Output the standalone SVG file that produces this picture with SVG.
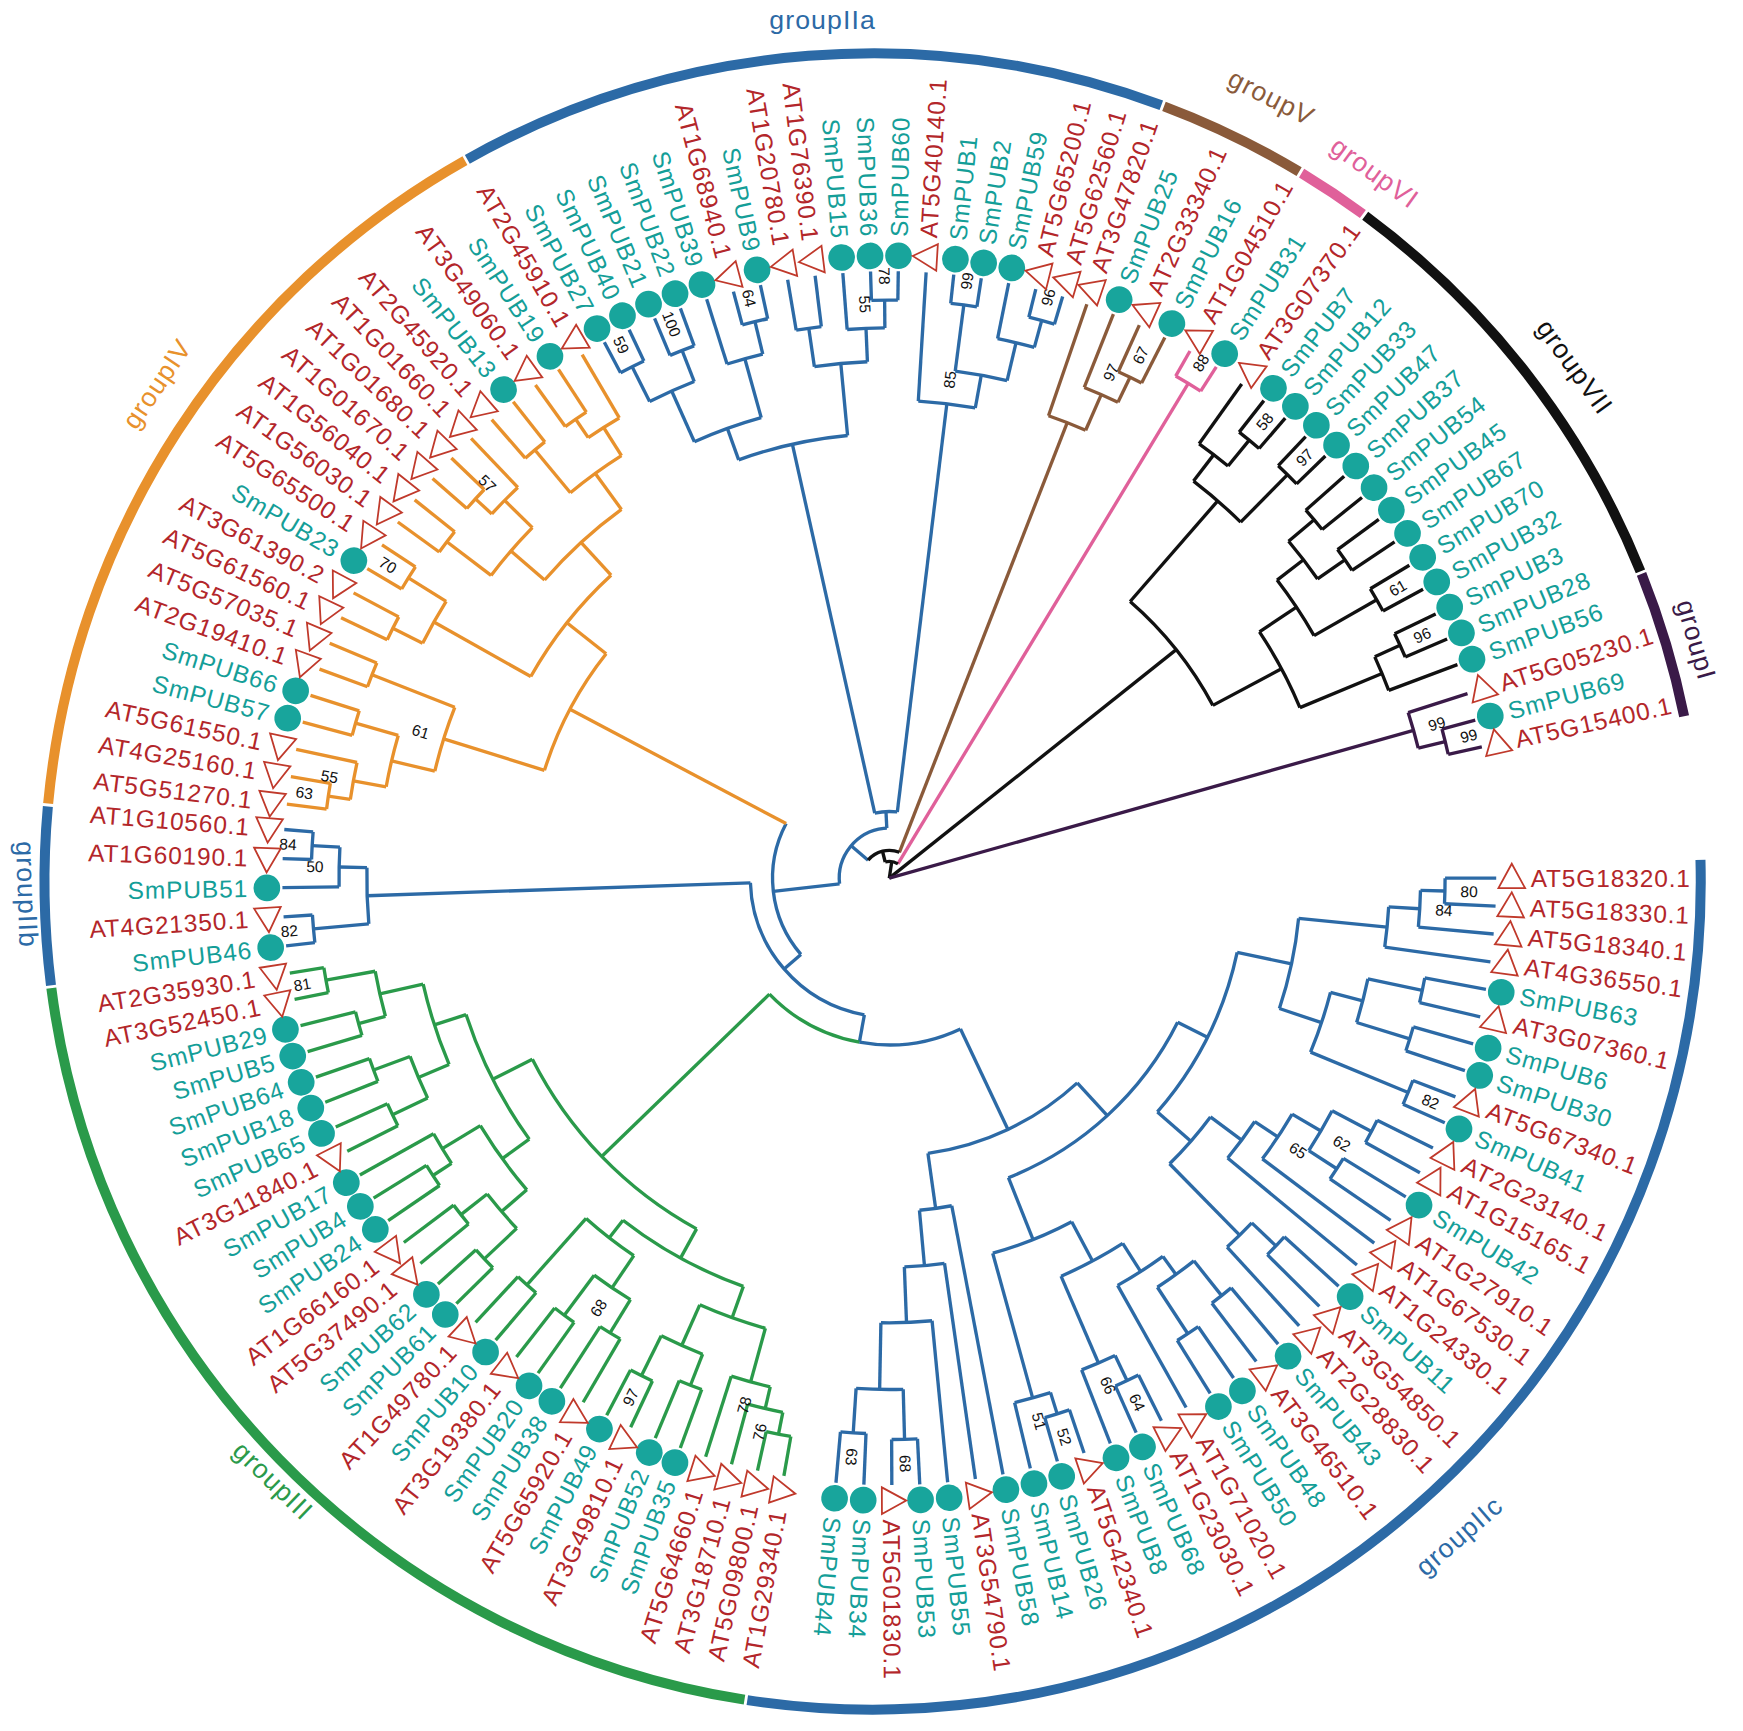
<svg xmlns="http://www.w3.org/2000/svg" width="1743" height="1731" viewBox="0 0 1743 1731">
<style>
text{font-family:"Liberation Sans",Arial,sans-serif}
.r{fill:#b3262a;font-size:22px;letter-spacing:0.8px}
.s{fill:#149e98;font-size:22px;letter-spacing:0.8px}
.dot{fill:#18a59c}
.tri{fill:#fff;stroke:#c0392b;stroke-width:1.6}
#connectors line,#connectors circle{fill:none;stroke-width:3}
.b{stroke:#2c6aa6}.o{stroke:#e8912c}.g{stroke:#2a9a4a}.br{stroke:#8a5a3a}.pk{stroke:#e0609a}.k{stroke:#111}.pu{stroke:#3a1a48}
.bs{font-size:14px;fill:#111}
.ring circle{fill:none;stroke-width:9}
.gl{font-size:24px;letter-spacing:1px}
</style>
<rect width="1743" height="1731" fill="#fff"/>
<g transform="scale(1.1116)">
<g transform="translate(800,790)">
<g id="connectors">
<g class="b">
<circle r="500" transform="rotate(0)" stroke-dasharray="23.04 5000"/><line x1="500" x2="546" transform="rotate(0)"/><line x1="500" x2="546" transform="rotate(2.64)"/>
<circle r="478" transform="rotate(1.32)" stroke-dasharray="33.04 5000"/><line x1="478" x2="500" transform="rotate(1.32)"/><line x1="478" x2="546" transform="rotate(5.28)"/>
<circle r="450" transform="rotate(3.30)" stroke-dasharray="36.28 5000"/><line x1="450" x2="478" transform="rotate(3.30)"/><line x1="450" x2="546" transform="rotate(7.92)"/>
<circle r="490" transform="rotate(10.56)" stroke-dasharray="22.58 5000"/><line x1="490" x2="546" transform="rotate(10.56)"/><line x1="490" x2="546" transform="rotate(13.2)"/>
<circle r="490" transform="rotate(15.84)" stroke-dasharray="22.58 5000"/><line x1="490" x2="546" transform="rotate(15.84)"/><line x1="490" x2="546" transform="rotate(18.48)"/>
<circle r="440" transform="rotate(11.88)" stroke-dasharray="40.55 5000"/><line x1="440" x2="490" transform="rotate(11.88)"/><line x1="440" x2="490" transform="rotate(17.16)"/>
<circle r="505" transform="rotate(21.12)" stroke-dasharray="23.27 5000"/><line x1="505" x2="546" transform="rotate(21.12)"/><line x1="505" x2="546" transform="rotate(23.76)"/>
<circle r="410" transform="rotate(14.52)" stroke-dasharray="56.67 5000"/><line x1="410" x2="440" transform="rotate(14.52)"/><line x1="410" x2="505" transform="rotate(22.44)"/>
<circle r="370" transform="rotate(5.61)" stroke-dasharray="83.11 5000"/><line x1="370" x2="450" transform="rotate(5.61)"/><line x1="370" x2="410" transform="rotate(18.48)"/>
<circle r="490" transform="rotate(26.4)" stroke-dasharray="22.58 5000"/><line x1="490" x2="546" transform="rotate(26.4)"/><line x1="490" x2="546" transform="rotate(29.04)"/>
<circle r="480" transform="rotate(31.68)" stroke-dasharray="22.12 5000"/><line x1="480" x2="546" transform="rotate(31.68)"/><line x1="480" x2="546" transform="rotate(34.32)"/>
<circle r="450" transform="rotate(27.72)" stroke-dasharray="41.47 5000"/><line x1="450" x2="490" transform="rotate(27.72)"/><line x1="450" x2="480" transform="rotate(33)"/>
<circle r="420" transform="rotate(30.36)" stroke-dasharray="48.38 5000"/><line x1="420" x2="450" transform="rotate(30.36)"/><line x1="420" x2="546" transform="rotate(36.96)"/>
<circle r="395" transform="rotate(33.66)" stroke-dasharray="40.95 5000"/><line x1="395" x2="420" transform="rotate(33.66)"/><line x1="395" x2="546" transform="rotate(39.6)"/>
<circle r="480" transform="rotate(42.24)" stroke-dasharray="22.12 5000"/><line x1="480" x2="546" transform="rotate(42.24)"/><line x1="480" x2="546" transform="rotate(44.88)"/>
<circle r="450" transform="rotate(43.56)" stroke-dasharray="31.10 5000"/><line x1="450" x2="480" transform="rotate(43.56)"/><line x1="450" x2="546" transform="rotate(47.52)"/>
<circle r="360" transform="rotate(36.63)" stroke-dasharray="55.98 5000"/><line x1="360" x2="395" transform="rotate(36.63)"/><line x1="360" x2="450" transform="rotate(45.54)"/>
<circle r="320" transform="rotate(12.045)" stroke-dasharray="162.19 5000"/><line x1="320" x2="370" transform="rotate(12.045)"/><line x1="320" x2="360" transform="rotate(41.085)"/>
<circle r="480" transform="rotate(50.16)" stroke-dasharray="22.12 5000"/><line x1="480" x2="546" transform="rotate(50.16)"/><line x1="480" x2="546" transform="rotate(52.8)"/>
<circle r="490" transform="rotate(55.44)" stroke-dasharray="22.58 5000"/><line x1="490" x2="546" transform="rotate(55.44)"/><line x1="490" x2="546" transform="rotate(58.08)"/>
<circle r="440" transform="rotate(51.48)" stroke-dasharray="40.55 5000"/><line x1="440" x2="480" transform="rotate(51.48)"/><line x1="440" x2="490" transform="rotate(56.76)"/>
<circle r="420" transform="rotate(54.12)" stroke-dasharray="48.38 5000"/><line x1="420" x2="440" transform="rotate(54.12)"/><line x1="420" x2="546" transform="rotate(60.72)"/>
<circle r="500" transform="rotate(63.36)" stroke-dasharray="23.04 5000"/><line x1="500" x2="546" transform="rotate(63.36)"/><line x1="500" x2="546" transform="rotate(66)"/>
<circle r="475" transform="rotate(64.68)" stroke-dasharray="32.83 5000"/><line x1="475" x2="500" transform="rotate(64.68)"/><line x1="475" x2="546" transform="rotate(68.64)"/>
<circle r="390" transform="rotate(57.42)" stroke-dasharray="62.89 5000"/><line x1="390" x2="420" transform="rotate(57.42)"/><line x1="390" x2="475" transform="rotate(66.66)"/>
<circle r="505" transform="rotate(71.28)" stroke-dasharray="23.27 5000"/><line x1="505" x2="546" transform="rotate(71.28)"/><line x1="505" x2="546" transform="rotate(73.92)"/>
<circle r="485" transform="rotate(72.6)" stroke-dasharray="33.52 5000"/><line x1="485" x2="505" transform="rotate(72.6)"/><line x1="485" x2="546" transform="rotate(76.56)"/>
<circle r="350" transform="rotate(62.04)" stroke-dasharray="76.60 5000"/><line x1="350" x2="390" transform="rotate(62.04)"/><line x1="350" x2="485" transform="rotate(74.58)"/>
<circle r="290" transform="rotate(26.565)" stroke-dasharray="211.29 5000"/><line x1="290" x2="320" transform="rotate(26.565)"/><line x1="290" x2="350" transform="rotate(68.31)"/>
<circle r="500" transform="rotate(92.4)" stroke-dasharray="23.04 5000"/><line x1="500" x2="546" transform="rotate(92.4)"/><line x1="500" x2="546" transform="rotate(95.04)"/>
<circle r="505" transform="rotate(87.12)" stroke-dasharray="23.27 5000"/><line x1="505" x2="546" transform="rotate(87.12)"/><line x1="505" x2="546" transform="rotate(89.76)"/>
<circle r="460" transform="rotate(88.44)" stroke-dasharray="42.39 5000"/><line x1="460" x2="505" transform="rotate(88.44)"/><line x1="460" x2="500" transform="rotate(93.72)"/>
<circle r="400" transform="rotate(84.48)" stroke-dasharray="46.08 5000"/><line x1="400" x2="546" transform="rotate(84.48)"/><line x1="400" x2="460" transform="rotate(91.08)"/>
<circle r="350" transform="rotate(81.84)" stroke-dasharray="36.28 5000"/><line x1="350" x2="546" transform="rotate(81.84)"/><line x1="350" x2="400" transform="rotate(87.78)"/>
<circle r="300" transform="rotate(79.2)" stroke-dasharray="29.37 5000"/><line x1="300" x2="546" transform="rotate(79.2)"/><line x1="300" x2="350" transform="rotate(84.81)"/>
<circle r="250" transform="rotate(47.44)" stroke-dasharray="150.82 5000"/><line x1="250" x2="290" transform="rotate(47.44)"/><line x1="250" x2="300" transform="rotate(82.005)"/>
<circle r="150" transform="rotate(64.72)" stroke-dasharray="93.23 5000"/><line x1="150" x2="250" transform="rotate(64.72)"/>
<circle r="520" transform="rotate(173.6)" stroke-dasharray="24.96 5000"/><line x1="520" x2="546" transform="rotate(173.6)"/><line x1="520" x2="546" transform="rotate(176.35)"/>
<circle r="520" transform="rotate(181.85)" stroke-dasharray="24.96 5000"/><line x1="520" x2="546" transform="rotate(181.85)"/><line x1="520" x2="546" transform="rotate(184.6)"/>
<circle r="495" transform="rotate(179.1)" stroke-dasharray="35.64 5000"/><line x1="495" x2="546" transform="rotate(179.1)"/><line x1="495" x2="520" transform="rotate(183.225)"/>
<circle r="470" transform="rotate(174.975)" stroke-dasharray="50.74 5000"/><line x1="470" x2="520" transform="rotate(174.975)"/><line x1="470" x2="495" transform="rotate(181.16)"/>
<line x1="125" x2="470" transform="rotate(178.07)"/>
<circle r="125" transform="rotate(100.33)" stroke-dasharray="169.60 5000"/><line x1="125" x2="150" transform="rotate(100.33)"/>
<circle r="105" transform="rotate(139.2)" stroke-dasharray="125.86 5000"/><line x1="105" x2="125" transform="rotate(139.2)"/>
<circle r="45" transform="rotate(173.54)" stroke-dasharray="73.53 5000"/><line x1="45" x2="105" transform="rotate(173.54)"/><line x1="45" x2="60" transform="rotate(267.165)"/>
<line x1="25" x2="45" transform="rotate(220.35)"/>
<circle r="515" transform="rotate(242)" stroke-dasharray="23.55 5000"/><line x1="515" x2="546" transform="rotate(242)"/><line x1="515" x2="546" transform="rotate(244.62)"/>
<circle r="510" transform="rotate(247.25)" stroke-dasharray="23.32 5000"/><line x1="510" x2="546" transform="rotate(247.25)"/><line x1="510" x2="546" transform="rotate(249.87)"/>
<circle r="480" transform="rotate(243.31)" stroke-dasharray="43.98 5000"/><line x1="480" x2="515" transform="rotate(243.31)"/><line x1="480" x2="510" transform="rotate(248.56)"/>
<circle r="515" transform="rotate(255.12)" stroke-dasharray="23.55 5000"/><line x1="515" x2="546" transform="rotate(255.12)"/><line x1="515" x2="546" transform="rotate(257.74)"/>
<circle r="485" transform="rotate(252.49)" stroke-dasharray="33.35 5000"/><line x1="485" x2="546" transform="rotate(252.49)"/><line x1="485" x2="515" transform="rotate(256.43)"/>
<circle r="430" transform="rotate(245.935)" stroke-dasharray="63.98 5000"/><line x1="430" x2="480" transform="rotate(245.935)"/><line x1="430" x2="485" transform="rotate(254.46)"/>
<circle r="500" transform="rotate(260.36)" stroke-dasharray="22.86 5000"/><line x1="500" x2="546" transform="rotate(260.36)"/><line x1="500" x2="546" transform="rotate(262.98)"/>
<circle r="520" transform="rotate(268.23)" stroke-dasharray="23.78 5000"/><line x1="520" x2="546" transform="rotate(268.23)"/><line x1="520" x2="546" transform="rotate(270.85)"/>
<circle r="495" transform="rotate(265.61)" stroke-dasharray="33.95 5000"/><line x1="495" x2="546" transform="rotate(265.61)"/><line x1="495" x2="520" transform="rotate(269.54)"/>
<circle r="465" transform="rotate(261.67)" stroke-dasharray="47.92 5000"/><line x1="465" x2="500" transform="rotate(261.67)"/><line x1="465" x2="495" transform="rotate(267.575)"/>
<circle r="400" transform="rotate(250.2)" stroke-dasharray="100.67 5000"/><line x1="400" x2="430" transform="rotate(250.2)"/><line x1="400" x2="465" transform="rotate(264.62)"/>
<circle r="520" transform="rotate(276.1)" stroke-dasharray="23.78 5000"/><line x1="520" x2="546" transform="rotate(276.1)"/><line x1="520" x2="546" transform="rotate(278.72)"/>
<circle r="520" transform="rotate(283.97)" stroke-dasharray="23.87 5000"/><line x1="520" x2="546" transform="rotate(283.97)"/><line x1="520" x2="546" transform="rotate(286.6)"/>
<circle r="495" transform="rotate(281.35)" stroke-dasharray="34.0 5000"/><line x1="495" x2="546" transform="rotate(281.35)"/><line x1="495" x2="520" transform="rotate(285.285)"/>
<circle r="460" transform="rotate(277.41)" stroke-dasharray="47.45 5000"/><line x1="460" x2="520" transform="rotate(277.41)"/><line x1="460" x2="495" transform="rotate(283.32)"/>
<circle r="430" transform="rotate(273.48)" stroke-dasharray="51.67 5000"/><line x1="430" x2="546" transform="rotate(273.48)"/><line x1="430" x2="460" transform="rotate(280.365)"/>
<circle r="60" transform="rotate(257.41)" stroke-dasharray="20.43 5000"/><line x1="60" x2="400" transform="rotate(257.41)"/><line x1="60" x2="430" transform="rotate(276.92)"/>
</g>
<g class="g">
<circle r="150" transform="rotate(100.33)" stroke-dasharray="93.23 5000"/><line x1="150" x2="360" transform="rotate(135.94)"/>
<circle r="510" transform="rotate(100)" stroke-dasharray="22.61 5000"/><line x1="510" x2="546" transform="rotate(100)"/><line x1="510" x2="546" transform="rotate(102.54)"/>
<circle r="490" transform="rotate(101.27)" stroke-dasharray="32.50 5000"/><line x1="490" x2="510" transform="rotate(101.27)"/><line x1="490" x2="546" transform="rotate(105.07)"/>
<circle r="470" transform="rotate(103.17)" stroke-dasharray="36.42 5000"/><line x1="470" x2="490" transform="rotate(103.17)"/><line x1="470" x2="546" transform="rotate(107.61)"/>
<circle r="490" transform="rotate(110.14)" stroke-dasharray="21.72 5000"/><line x1="490" x2="546" transform="rotate(110.14)"/><line x1="490" x2="546" transform="rotate(112.68)"/>
<circle r="500" transform="rotate(115.22)" stroke-dasharray="22.08 5000"/><line x1="500" x2="546" transform="rotate(115.22)"/><line x1="500" x2="546" transform="rotate(117.75)"/>
<circle r="460" transform="rotate(111.41)" stroke-dasharray="40.74 5000"/><line x1="460" x2="490" transform="rotate(111.41)"/><line x1="460" x2="500" transform="rotate(116.485)"/>
<circle r="420" transform="rotate(105.39)" stroke-dasharray="62.75 5000"/><line x1="420" x2="470" transform="rotate(105.39)"/><line x1="420" x2="460" transform="rotate(113.95)"/>
<circle r="480" transform="rotate(120.29)" stroke-dasharray="21.19 5000"/><line x1="480" x2="546" transform="rotate(120.29)"/><line x1="480" x2="546" transform="rotate(122.82)"/>
<circle r="490" transform="rotate(125.36)" stroke-dasharray="21.72 5000"/><line x1="490" x2="546" transform="rotate(125.36)"/><line x1="490" x2="546" transform="rotate(127.9)"/>
<circle r="445" transform="rotate(121.555)" stroke-dasharray="39.42 5000"/><line x1="445" x2="480" transform="rotate(121.555)"/><line x1="445" x2="490" transform="rotate(126.63)"/>
<circle r="490" transform="rotate(130.43)" stroke-dasharray="21.72 5000"/><line x1="490" x2="546" transform="rotate(130.43)"/><line x1="490" x2="546" transform="rotate(132.97)"/>
<circle r="410" transform="rotate(124.09)" stroke-dasharray="54.46 5000"/><line x1="410" x2="445" transform="rotate(124.09)"/><line x1="410" x2="490" transform="rotate(131.7)"/>
<circle r="390" transform="rotate(109.67)" stroke-dasharray="124.09 5000"/><line x1="390" x2="420" transform="rotate(109.67)"/><line x1="390" x2="410" transform="rotate(127.9)"/>
<circle r="500" transform="rotate(135.5)" stroke-dasharray="22.17 5000"/><line x1="500" x2="546" transform="rotate(135.5)"/><line x1="500" x2="546" transform="rotate(138.04)"/>
<circle r="490" transform="rotate(140.58)" stroke-dasharray="21.64 5000"/><line x1="490" x2="546" transform="rotate(140.58)"/><line x1="490" x2="546" transform="rotate(143.11)"/>
<circle r="460" transform="rotate(136.77)" stroke-dasharray="40.74 5000"/><line x1="460" x2="500" transform="rotate(136.77)"/><line x1="460" x2="490" transform="rotate(141.845)"/>
<circle r="490" transform="rotate(145.65)" stroke-dasharray="21.64 5000"/><line x1="490" x2="546" transform="rotate(145.65)"/><line x1="490" x2="546" transform="rotate(148.18)"/>
<circle r="470" transform="rotate(146.915)" stroke-dasharray="31.21 5000"/><line x1="470" x2="490" transform="rotate(146.915)"/><line x1="470" x2="546" transform="rotate(150.72)"/>
<circle r="430" transform="rotate(139.31)" stroke-dasharray="71.37 5000"/><line x1="430" x2="460" transform="rotate(139.31)"/><line x1="430" x2="470" transform="rotate(148.82)"/>
<circle r="495" transform="rotate(153.26)" stroke-dasharray="21.86 5000"/><line x1="495" x2="546" transform="rotate(153.26)"/><line x1="495" x2="546" transform="rotate(155.79)"/>
<circle r="495" transform="rotate(158.33)" stroke-dasharray="21.86 5000"/><line x1="495" x2="546" transform="rotate(158.33)"/><line x1="495" x2="546" transform="rotate(160.86)"/>
<circle r="460" transform="rotate(154.525)" stroke-dasharray="40.70 5000"/><line x1="460" x2="495" transform="rotate(154.525)"/><line x1="460" x2="495" transform="rotate(159.595)"/>
<circle r="495" transform="rotate(163.4)" stroke-dasharray="21.94 5000"/><line x1="495" x2="546" transform="rotate(163.4)"/><line x1="495" x2="546" transform="rotate(165.94)"/>
<circle r="515" transform="rotate(168.47)" stroke-dasharray="22.74 5000"/><line x1="515" x2="546" transform="rotate(168.47)"/><line x1="515" x2="546" transform="rotate(171)"/>
<circle r="470" transform="rotate(164.67)" stroke-dasharray="41.55 5000"/><line x1="470" x2="495" transform="rotate(164.67)"/><line x1="470" x2="515" transform="rotate(169.735)"/>
<circle r="430" transform="rotate(157.06)" stroke-dasharray="76.10 5000"/><line x1="430" x2="460" transform="rotate(157.06)"/><line x1="430" x2="470" transform="rotate(167.2)"/>
<circle r="400" transform="rotate(144.065)" stroke-dasharray="126.12 5000"/><line x1="400" x2="430" transform="rotate(144.065)"/><line x1="400" x2="430" transform="rotate(162.13)"/>
<circle r="360" transform="rotate(118.785)" stroke-dasharray="215.60 5000"/><line x1="360" x2="390" transform="rotate(118.785)"/><line x1="360" x2="400" transform="rotate(153.1)"/>
</g>
<g class="o">
<line x1="105" x2="325" transform="rotate(207.88)"/>
<circle r="510" transform="rotate(187)" stroke-dasharray="23.41 5000"/><line x1="510" x2="546" transform="rotate(187)"/><line x1="510" x2="546" transform="rotate(189.63)"/>
<circle r="490" transform="rotate(188.315)" stroke-dasharray="33.74 5000"/><line x1="490" x2="510" transform="rotate(188.315)"/><line x1="490" x2="546" transform="rotate(192.26)"/>
<circle r="500" transform="rotate(194.89)" stroke-dasharray="22.95 5000"/><line x1="500" x2="546" transform="rotate(194.89)"/><line x1="500" x2="546" transform="rotate(197.52)"/>
<circle r="460" transform="rotate(190.29)" stroke-dasharray="47.49 5000"/><line x1="460" x2="490" transform="rotate(190.29)"/><line x1="460" x2="500" transform="rotate(196.205)"/>
<circle r="500" transform="rotate(200.15)" stroke-dasharray="22.95 5000"/><line x1="500" x2="546" transform="rotate(200.15)"/><line x1="500" x2="546" transform="rotate(202.78)"/>
<circle r="420" transform="rotate(193.25)" stroke-dasharray="60.22 5000"/><line x1="420" x2="460" transform="rotate(193.25)"/><line x1="420" x2="500" transform="rotate(201.465)"/>
<circle r="500" transform="rotate(205.41)" stroke-dasharray="22.95 5000"/><line x1="500" x2="546" transform="rotate(205.41)"/><line x1="500" x2="546" transform="rotate(208.04)"/>
<circle r="510" transform="rotate(210.67)" stroke-dasharray="23.41 5000"/><line x1="510" x2="546" transform="rotate(210.67)"/><line x1="510" x2="546" transform="rotate(213.3)"/>
<circle r="470" transform="rotate(206.725)" stroke-dasharray="43.15 5000"/><line x1="470" x2="500" transform="rotate(206.725)"/><line x1="470" x2="510" transform="rotate(211.985)"/>
<circle r="500" transform="rotate(215.93)" stroke-dasharray="22.95 5000"/><line x1="500" x2="546" transform="rotate(215.93)"/><line x1="500" x2="546" transform="rotate(218.56)"/>
<circle r="505" transform="rotate(221.19)" stroke-dasharray="23.18 5000"/><line x1="505" x2="546" transform="rotate(221.19)"/><line x1="505" x2="546" transform="rotate(223.82)"/>
<circle r="485" transform="rotate(222.505)" stroke-dasharray="33.39 5000"/><line x1="485" x2="505" transform="rotate(222.505)"/><line x1="485" x2="546" transform="rotate(226.45)"/>
<circle r="450" transform="rotate(217.245)" stroke-dasharray="56.82 5000"/><line x1="450" x2="500" transform="rotate(217.245)"/><line x1="450" x2="485" transform="rotate(224.48)"/>
<circle r="500" transform="rotate(229.08)" stroke-dasharray="22.95 5000"/><line x1="500" x2="546" transform="rotate(229.08)"/><line x1="500" x2="546" transform="rotate(231.71)"/>
<circle r="500" transform="rotate(234.34)" stroke-dasharray="22.95 5000"/><line x1="500" x2="546" transform="rotate(234.34)"/><line x1="500" x2="546" transform="rotate(236.97)"/>
<circle r="480" transform="rotate(235.655)" stroke-dasharray="33.05 5000"/><line x1="480" x2="500" transform="rotate(235.655)"/><line x1="480" x2="546" transform="rotate(239.6)"/>
<circle r="450" transform="rotate(230.395)" stroke-dasharray="56.82 5000"/><line x1="450" x2="500" transform="rotate(230.395)"/><line x1="450" x2="480" transform="rotate(237.63)"/>
<circle r="410" transform="rotate(220.86)" stroke-dasharray="94.10 5000"/><line x1="410" x2="450" transform="rotate(220.86)"/><line x1="410" x2="450" transform="rotate(234.01)"/>
<circle r="370" transform="rotate(209.355)" stroke-dasharray="116.75 5000"/><line x1="370" x2="470" transform="rotate(209.355)"/><line x1="370" x2="410" transform="rotate(227.435)"/>
<circle r="325" transform="rotate(197.36)" stroke-dasharray="119.32 5000"/><line x1="325" x2="420" transform="rotate(197.36)"/><line x1="325" x2="370" transform="rotate(218.395)"/>
</g>
<g class="br">
<line x1="25" x2="440" transform="rotate(291.335)"/>
<circle r="500" transform="rotate(294.33)" stroke-dasharray="23.30 5000"/><line x1="500" x2="546" transform="rotate(294.33)"/><line x1="500" x2="546" transform="rotate(297)"/>
<circle r="475" transform="rotate(291.67)" stroke-dasharray="33.12 5000"/><line x1="475" x2="546" transform="rotate(291.67)"/><line x1="475" x2="500" transform="rotate(295.665)"/>
<circle r="440" transform="rotate(289)" stroke-dasharray="35.86 5000"/><line x1="440" x2="546" transform="rotate(289)"/><line x1="440" x2="475" transform="rotate(293.67)"/>
</g>
<g class="pk">
<line x1="15" x2="520" transform="rotate(301.15)"/>
<circle r="520" transform="rotate(299.7)" stroke-dasharray="26.32 5000"/><line x1="520" x2="546" transform="rotate(299.7)"/><line x1="520" x2="546" transform="rotate(302.6)"/>
</g>
<g class="k">
<circle r="25" transform="rotate(220.35)" stroke-dasharray="30.97 5000"/>
<circle r="15" transform="rotate(255.84)" stroke-dasharray="11.86 5000"/><line x1="15" x2="25" transform="rotate(255.84)"/>
<line x1="0" x2="15" transform="rotate(278.5)"/>
<line x1="0" x2="330" transform="rotate(321.47)"/>
<circle r="510" transform="rotate(308.11)" stroke-dasharray="23.23 5000"/><line x1="510" x2="546" transform="rotate(308.11)"/><line x1="510" x2="546" transform="rotate(310.72)"/>
<circle r="480" transform="rotate(305.5)" stroke-dasharray="32.80 5000"/><line x1="480" x2="546" transform="rotate(305.5)"/><line x1="480" x2="510" transform="rotate(309.415)"/>
<circle r="510" transform="rotate(313.32)" stroke-dasharray="23.23 5000"/><line x1="510" x2="546" transform="rotate(313.32)"/><line x1="510" x2="546" transform="rotate(315.93)"/>
<circle r="450" transform="rotate(307.46)" stroke-dasharray="56.27 5000"/><line x1="450" x2="480" transform="rotate(307.46)"/><line x1="450" x2="510" transform="rotate(314.625)"/>
<circle r="500" transform="rotate(318.54)" stroke-dasharray="22.78 5000"/><line x1="500" x2="546" transform="rotate(318.54)"/><line x1="500" x2="546" transform="rotate(321.15)"/>
<circle r="500" transform="rotate(323.76)" stroke-dasharray="22.69 5000"/><line x1="500" x2="546" transform="rotate(323.76)"/><line x1="500" x2="546" transform="rotate(326.36)"/>
<circle r="470" transform="rotate(319.845)" stroke-dasharray="42.78 5000"/><line x1="470" x2="500" transform="rotate(319.845)"/><line x1="470" x2="500" transform="rotate(325.06)"/>
<circle r="505" transform="rotate(328.97)" stroke-dasharray="23.0 5000"/><line x1="505" x2="546" transform="rotate(328.97)"/><line x1="505" x2="546" transform="rotate(331.58)"/>
<circle r="440" transform="rotate(322.45)" stroke-dasharray="60.09 5000"/><line x1="440" x2="470" transform="rotate(322.45)"/><line x1="440" x2="505" transform="rotate(330.275)"/>
<circle r="505" transform="rotate(334.19)" stroke-dasharray="23.0 5000"/><line x1="505" x2="546" transform="rotate(334.19)"/><line x1="505" x2="546" transform="rotate(336.8)"/>
<circle r="480" transform="rotate(335.495)" stroke-dasharray="32.71 5000"/><line x1="480" x2="505" transform="rotate(335.495)"/><line x1="480" x2="546" transform="rotate(339.4)"/>
<circle r="400" transform="rotate(326.36)" stroke-dasharray="77.42 5000"/><line x1="400" x2="440" transform="rotate(326.36)"/><line x1="400" x2="480" transform="rotate(337.45)"/>
<circle r="330" transform="rotate(311.04)" stroke-dasharray="120.14 5000"/><line x1="330" x2="450" transform="rotate(311.04)"/><line x1="330" x2="400" transform="rotate(331.9)"/>
</g>
<g class="pu">
<line x1="0" x2="490" transform="rotate(344.25)"/>
<circle r="515" transform="rotate(344.9)" stroke-dasharray="23.37 5000"/><line x1="515" x2="546" transform="rotate(344.9)"/><line x1="515" x2="546" transform="rotate(347.5)"/>
<circle r="490" transform="rotate(342.3)" stroke-dasharray="33.35 5000"/><line x1="490" x2="546" transform="rotate(342.3)"/><line x1="490" x2="515" transform="rotate(346.2)"/>
</g>
<g class="bs">
<text transform="rotate(1.32)" x="514" y="5">80</text>
<text transform="rotate(3.3)" x="492" y="5">84</text>
<text transform="rotate(22.44)" x="519" y="5">82</text>
<text transform="rotate(30.36)" x="464" y="5">62</text>
<text transform="rotate(33.66)" x="434" y="5">65</text>
<text transform="rotate(64.68)" x="514" y="5">64</text>
<text transform="rotate(66.66)" x="489" y="5">66</text>
<text transform="rotate(72.6)" x="519" y="5">52</text>
<text transform="rotate(74.58)" x="499" y="5">51</text>
<text transform="rotate(93.72)" x="514" y="5">63</text>
<text transform="rotate(88.44)" x="519" y="5">68</text>
<text transform="rotate(103.17) rotate(180)" x="-504" y="5" text-anchor="end">76</text>
<text transform="rotate(105.39) rotate(180)" x="-484" y="5" text-anchor="end">78</text>
<text transform="rotate(116.485) rotate(180)" x="-514" y="5" text-anchor="end">97</text>
<text transform="rotate(124.09) rotate(180)" x="-459" y="5" text-anchor="end">68</text>
<text transform="rotate(169.735) rotate(180)" x="-529" y="5" text-anchor="end">81</text>
<text transform="rotate(174.975) rotate(180)" x="-534" y="5" text-anchor="end">82</text>
<text transform="rotate(183.225) rotate(180)" x="-534" y="5" text-anchor="end">84</text>
<text transform="rotate(181.16) rotate(180)" x="-509" y="5" text-anchor="end">50</text>
<text transform="rotate(188.315) rotate(180)" x="-524" y="5" text-anchor="end">63</text>
<text transform="rotate(190.29) rotate(180)" x="-504" y="5" text-anchor="end">55</text>
<text transform="rotate(197.36) rotate(180)" x="-434" y="5" text-anchor="end">61</text>
<text transform="rotate(211.985) rotate(180)" x="-524" y="5" text-anchor="end">70</text>
<text transform="rotate(224.48) rotate(180)" x="-499" y="5" text-anchor="end">57</text>
<text transform="rotate(243.31) rotate(180)" x="-529" y="5" text-anchor="end">59</text>
<text transform="rotate(248.56) rotate(180)" x="-524" y="5" text-anchor="end">100</text>
<text transform="rotate(256.43) rotate(180)" x="-529" y="5" text-anchor="end">64</text>
<text transform="rotate(269.54) rotate(180)" x="-534" y="5" text-anchor="end">78</text>
<text transform="rotate(267.575) rotate(180)" x="-509" y="5" text-anchor="end">55</text>
<text transform="rotate(277.41)" x="534" y="5">99</text>
<text transform="rotate(285.285)" x="534" y="5">96</text>
<text transform="rotate(276.92)" x="444" y="5">85</text>
<text transform="rotate(295.665)" x="514" y="5">67</text>
<text transform="rotate(293.67)" x="489" y="5">97</text>
<text transform="rotate(301.15)" x="534" y="5">88</text>
<text transform="rotate(309.415)" x="524" y="5">58</text>
<text transform="rotate(314.625)" x="524" y="5">97</text>
<text transform="rotate(330.275)" x="519" y="5">61</text>
<text transform="rotate(335.495)" x="519" y="5">96</text>
<text transform="rotate(346.2)" x="529" y="5">99</text>
<text transform="rotate(344.25)" x="504" y="5">99</text>
</g>
</g>
<defs>
<polygon id="tr" class="tri" points="560,-13 572,9 548,9"/>
<circle id="dt" class="dot" cx="560" r="12"/>
</defs>
<g id="leaves">
<g id="n_AT5G18320" transform="rotate(0)"><use href="#tr"/><text class="r" x="577" y="8">AT5G18320.1</text></g>
<g id="n_AT5G18330" transform="rotate(2.64)"><use href="#tr"/><text class="r" x="577" y="8">AT5G18330.1</text></g>
<g id="n_AT5G18340" transform="rotate(5.28)"><use href="#tr"/><text class="r" x="577" y="8">AT5G18340.1</text></g>
<g id="n_AT4G36550" transform="rotate(7.92)"><use href="#tr"/><text class="r" x="577" y="8">AT4G36550.1</text></g>
<g id="n_SmPUB63" transform="rotate(10.56)"><use href="#dt"/><text class="s" x="577" y="8">SmPUB63</text></g>
<g id="n_AT3G07360" transform="rotate(13.2)"><use href="#tr"/><text class="r" x="577" y="8">AT3G07360.1</text></g>
<g id="n_SmPUB6" transform="rotate(15.84)"><use href="#dt"/><text class="s" x="577" y="8">SmPUB6</text></g>
<g id="n_SmPUB30" transform="rotate(18.48)"><use href="#dt"/><text class="s" x="577" y="8">SmPUB30</text></g>
<g id="n_AT5G67340" transform="rotate(21.12)"><use href="#tr"/><text class="r" x="577" y="8">AT5G67340.1</text></g>
<g id="n_SmPUB41" transform="rotate(23.76)"><use href="#dt"/><text class="s" x="577" y="8">SmPUB41</text></g>
<g id="n_AT2G23140" transform="rotate(26.4)"><use href="#tr"/><text class="r" x="577" y="8">AT2G23140.1</text></g>
<g id="n_AT1G15165" transform="rotate(29.04)"><use href="#tr"/><text class="r" x="577" y="8">AT1G15165.1</text></g>
<g id="n_SmPUB42" transform="rotate(31.68)"><use href="#dt"/><text class="s" x="577" y="8">SmPUB42</text></g>
<g id="n_AT1G27910" transform="rotate(34.32)"><use href="#tr"/><text class="r" x="577" y="8">AT1G27910.1</text></g>
<g id="n_AT1G67530" transform="rotate(36.96)"><use href="#tr"/><text class="r" x="577" y="8">AT1G67530.1</text></g>
<g id="n_AT1G24330" transform="rotate(39.6)"><use href="#tr"/><text class="r" x="577" y="8">AT1G24330.1</text></g>
<g id="n_SmPUB11" transform="rotate(42.24)"><use href="#dt"/><text class="s" x="577" y="8">SmPUB11</text></g>
<g id="n_AT3G54850" transform="rotate(44.88)"><use href="#tr"/><text class="r" x="577" y="8">AT3G54850.1</text></g>
<g id="n_AT2G28830" transform="rotate(47.52)"><use href="#tr"/><text class="r" x="577" y="8">AT2G28830.1</text></g>
<g id="n_SmPUB43" transform="rotate(50.16)"><use href="#dt"/><text class="s" x="577" y="8">SmPUB43</text></g>
<g id="n_AT3G46510" transform="rotate(52.8)"><use href="#tr"/><text class="r" x="577" y="8">AT3G46510.1</text></g>
<g id="n_SmPUB48" transform="rotate(55.44)"><use href="#dt"/><text class="s" x="577" y="8">SmPUB48</text></g>
<g id="n_SmPUB50" transform="rotate(58.08)"><use href="#dt"/><text class="s" x="577" y="8">SmPUB50</text></g>
<g id="n_AT1G71020" transform="rotate(60.72)"><use href="#tr"/><text class="r" x="577" y="8">AT1G71020.1</text></g>
<g id="n_AT1G23030" transform="rotate(63.36)"><use href="#tr"/><text class="r" x="577" y="8">AT1G23030.1</text></g>
<g id="n_SmPUB68" transform="rotate(66)"><use href="#dt"/><text class="s" x="577" y="8">SmPUB68</text></g>
<g id="n_SmPUB8" transform="rotate(68.64)"><use href="#dt"/><text class="s" x="577" y="8">SmPUB8</text></g>
<g id="n_AT5G42340" transform="rotate(71.28)"><use href="#tr"/><text class="r" x="577" y="8">AT5G42340.1</text></g>
<g id="n_SmPUB26" transform="rotate(73.92)"><use href="#dt"/><text class="s" x="577" y="8">SmPUB26</text></g>
<g id="n_SmPUB14" transform="rotate(76.56)"><use href="#dt"/><text class="s" x="577" y="8">SmPUB14</text></g>
<g id="n_SmPUB58" transform="rotate(79.2)"><use href="#dt"/><text class="s" x="577" y="8">SmPUB58</text></g>
<g id="n_AT3G54790" transform="rotate(81.84)"><use href="#tr"/><text class="r" x="577" y="8">AT3G54790.1</text></g>
<g id="n_SmPUB55" transform="rotate(84.48)"><use href="#dt"/><text class="s" x="577" y="8">SmPUB55</text></g>
<g id="n_SmPUB53" transform="rotate(87.12)"><use href="#dt"/><text class="s" x="577" y="8">SmPUB53</text></g>
<g id="n_AT5G01830" transform="rotate(89.76)"><use href="#tr"/><text class="r" x="577" y="8">AT5G01830.1</text></g>
<g id="n_SmPUB34" transform="rotate(92.4)"><use href="#dt"/><text class="s" x="577" y="8">SmPUB34</text></g>
<g id="n_SmPUB44" transform="rotate(95.04)"><use href="#dt"/><text class="s" x="577" y="8">SmPUB44</text></g>
<g id="n_AT1G29340" transform="rotate(100)"><use href="#tr"/><text class="r" transform="rotate(180)" x="-577" y="8" text-anchor="end">AT1G29340.1</text></g>
<g id="n_AT5G09800" transform="rotate(102.54)"><use href="#tr"/><text class="r" transform="rotate(180)" x="-577" y="8" text-anchor="end">AT5G09800.1</text></g>
<g id="n_AT3G18710" transform="rotate(105.07)"><use href="#tr"/><text class="r" transform="rotate(180)" x="-577" y="8" text-anchor="end">AT3G18710.1</text></g>
<g id="n_AT5G64660" transform="rotate(107.61)"><use href="#tr"/><text class="r" transform="rotate(180)" x="-577" y="8" text-anchor="end">AT5G64660.1</text></g>
<g id="n_SmPUB35" transform="rotate(110.14)"><use href="#dt"/><text class="s" transform="rotate(180)" x="-577" y="8" text-anchor="end">SmPUB35</text></g>
<g id="n_SmPUB52" transform="rotate(112.68)"><use href="#dt"/><text class="s" transform="rotate(180)" x="-577" y="8" text-anchor="end">SmPUB52</text></g>
<g id="n_AT3G49810" transform="rotate(115.22)"><use href="#tr"/><text class="r" transform="rotate(180)" x="-577" y="8" text-anchor="end">AT3G49810.1</text></g>
<g id="n_SmPUB49" transform="rotate(117.75)"><use href="#dt"/><text class="s" transform="rotate(180)" x="-577" y="8" text-anchor="end">SmPUB49</text></g>
<g id="n_AT5G65920" transform="rotate(120.29)"><use href="#tr"/><text class="r" transform="rotate(180)" x="-577" y="8" text-anchor="end">AT5G65920.1</text></g>
<g id="n_SmPUB38" transform="rotate(122.82)"><use href="#dt"/><text class="s" transform="rotate(180)" x="-577" y="8" text-anchor="end">SmPUB38</text></g>
<g id="n_SmPUB20" transform="rotate(125.36)"><use href="#dt"/><text class="s" transform="rotate(180)" x="-577" y="8" text-anchor="end">SmPUB20</text></g>
<g id="n_AT3G19380" transform="rotate(127.9)"><use href="#tr"/><text class="r" transform="rotate(180)" x="-577" y="8" text-anchor="end">AT3G19380.1</text></g>
<g id="n_SmPUB10" transform="rotate(130.43)"><use href="#dt"/><text class="s" transform="rotate(180)" x="-577" y="8" text-anchor="end">SmPUB10</text></g>
<g id="n_AT1G49780" transform="rotate(132.97)"><use href="#tr"/><text class="r" transform="rotate(180)" x="-577" y="8" text-anchor="end">AT1G49780.1</text></g>
<g id="n_SmPUB61" transform="rotate(135.5)"><use href="#dt"/><text class="s" transform="rotate(180)" x="-577" y="8" text-anchor="end">SmPUB61</text></g>
<g id="n_SmPUB62" transform="rotate(138.04)"><use href="#dt"/><text class="s" transform="rotate(180)" x="-577" y="8" text-anchor="end">SmPUB62</text></g>
<g id="n_AT5G37490" transform="rotate(140.58)"><use href="#tr"/><text class="r" transform="rotate(180)" x="-577" y="8" text-anchor="end">AT5G37490.1</text></g>
<g id="n_AT1G66160" transform="rotate(143.11)"><use href="#tr"/><text class="r" transform="rotate(180)" x="-577" y="8" text-anchor="end">AT1G66160.1</text></g>
<g id="n_SmPUB24" transform="rotate(145.65)"><use href="#dt"/><text class="s" transform="rotate(180)" x="-577" y="8" text-anchor="end">SmPUB24</text></g>
<g id="n_SmPUB4" transform="rotate(148.18)"><use href="#dt"/><text class="s" transform="rotate(180)" x="-577" y="8" text-anchor="end">SmPUB4</text></g>
<g id="n_SmPUB17" transform="rotate(150.72)"><use href="#dt"/><text class="s" transform="rotate(180)" x="-577" y="8" text-anchor="end">SmPUB17</text></g>
<g id="n_AT3G11840" transform="rotate(153.26)"><use href="#tr"/><text class="r" transform="rotate(180)" x="-577" y="8" text-anchor="end">AT3G11840.1</text></g>
<g id="n_SmPUB65" transform="rotate(155.79)"><use href="#dt"/><text class="s" transform="rotate(180)" x="-577" y="8" text-anchor="end">SmPUB65</text></g>
<g id="n_SmPUB18" transform="rotate(158.33)"><use href="#dt"/><text class="s" transform="rotate(180)" x="-577" y="8" text-anchor="end">SmPUB18</text></g>
<g id="n_SmPUB64" transform="rotate(160.86)"><use href="#dt"/><text class="s" transform="rotate(180)" x="-577" y="8" text-anchor="end">SmPUB64</text></g>
<g id="n_SmPUB5" transform="rotate(163.4)"><use href="#dt"/><text class="s" transform="rotate(180)" x="-577" y="8" text-anchor="end">SmPUB5</text></g>
<g id="n_SmPUB29" transform="rotate(165.94)"><use href="#dt"/><text class="s" transform="rotate(180)" x="-577" y="8" text-anchor="end">SmPUB29</text></g>
<g id="n_AT3G52450" transform="rotate(168.47)"><use href="#tr"/><text class="r" transform="rotate(180)" x="-577" y="8" text-anchor="end">AT3G52450.1</text></g>
<g id="n_AT2G35930" transform="rotate(171)"><use href="#tr"/><text class="r" transform="rotate(180)" x="-577" y="8" text-anchor="end">AT2G35930.1</text></g>
<g id="n_SmPUB46" transform="rotate(173.6)"><use href="#dt"/><text class="s" transform="rotate(180)" x="-577" y="8" text-anchor="end">SmPUB46</text></g>
<g id="n_AT4G21350" transform="rotate(176.35)"><use href="#tr"/><text class="r" transform="rotate(180)" x="-577" y="8" text-anchor="end">AT4G21350.1</text></g>
<g id="n_SmPUB51" transform="rotate(179.1)"><use href="#dt"/><text class="s" transform="rotate(180)" x="-577" y="8" text-anchor="end">SmPUB51</text></g>
<g id="n_AT1G60190" transform="rotate(181.85)"><use href="#tr"/><text class="r" transform="rotate(180)" x="-577" y="8" text-anchor="end">AT1G60190.1</text></g>
<g id="n_AT1G10560" transform="rotate(184.6)"><use href="#tr"/><text class="r" transform="rotate(180)" x="-577" y="8" text-anchor="end">AT1G10560.1</text></g>
<g id="n_AT5G51270" transform="rotate(187)"><use href="#tr"/><text class="r" transform="rotate(180)" x="-577" y="8" text-anchor="end">AT5G51270.1</text></g>
<g id="n_AT4G25160" transform="rotate(189.63)"><use href="#tr"/><text class="r" transform="rotate(180)" x="-577" y="8" text-anchor="end">AT4G25160.1</text></g>
<g id="n_AT5G61550" transform="rotate(192.26)"><use href="#tr"/><text class="r" transform="rotate(180)" x="-577" y="8" text-anchor="end">AT5G61550.1</text></g>
<g id="n_SmPUB57" transform="rotate(194.89)"><use href="#dt"/><text class="s" transform="rotate(180)" x="-577" y="8" text-anchor="end">SmPUB57</text></g>
<g id="n_SmPUB66" transform="rotate(197.52)"><use href="#dt"/><text class="s" transform="rotate(180)" x="-577" y="8" text-anchor="end">SmPUB66</text></g>
<g id="n_AT2G19410" transform="rotate(200.15)"><use href="#tr"/><text class="r" transform="rotate(180)" x="-577" y="8" text-anchor="end">AT2G19410.1</text></g>
<g id="n_AT5G57035" transform="rotate(202.78)"><use href="#tr"/><text class="r" transform="rotate(180)" x="-577" y="8" text-anchor="end">AT5G57035.1</text></g>
<g id="n_AT5G61560" transform="rotate(205.41)"><use href="#tr"/><text class="r" transform="rotate(180)" x="-577" y="8" text-anchor="end">AT5G61560.1</text></g>
<g id="n_AT3G61390" transform="rotate(208.04)"><use href="#tr"/><text class="r" transform="rotate(180)" x="-577" y="8" text-anchor="end">AT3G61390.2</text></g>
<g id="n_SmPUB23" transform="rotate(210.67)"><use href="#dt"/><text class="s" transform="rotate(180)" x="-577" y="8" text-anchor="end">SmPUB23</text></g>
<g id="n_AT5G65500" transform="rotate(213.3)"><use href="#tr"/><text class="r" transform="rotate(180)" x="-577" y="8" text-anchor="end">AT5G65500.1</text></g>
<g id="n_AT1G56030" transform="rotate(215.93)"><use href="#tr"/><text class="r" transform="rotate(180)" x="-577" y="8" text-anchor="end">AT1G56030.1</text></g>
<g id="n_AT1G56040" transform="rotate(218.56)"><use href="#tr"/><text class="r" transform="rotate(180)" x="-577" y="8" text-anchor="end">AT1G56040.1</text></g>
<g id="n_AT1G01670" transform="rotate(221.19)"><use href="#tr"/><text class="r" transform="rotate(180)" x="-577" y="8" text-anchor="end">AT1G01670.1</text></g>
<g id="n_AT1G01680" transform="rotate(223.82)"><use href="#tr"/><text class="r" transform="rotate(180)" x="-577" y="8" text-anchor="end">AT1G01680.1</text></g>
<g id="n_AT1G01660" transform="rotate(226.45)"><use href="#tr"/><text class="r" transform="rotate(180)" x="-577" y="8" text-anchor="end">AT1G01660.1</text></g>
<g id="n_AT2G45920" transform="rotate(229.08)"><use href="#tr"/><text class="r" transform="rotate(180)" x="-577" y="8" text-anchor="end">AT2G45920.1</text></g>
<g id="n_SmPUB13" transform="rotate(231.71)"><use href="#dt"/><text class="s" transform="rotate(180)" x="-577" y="8" text-anchor="end">SmPUB13</text></g>
<g id="n_AT3G49060" transform="rotate(234.34)"><use href="#tr"/><text class="r" transform="rotate(180)" x="-577" y="8" text-anchor="end">AT3G49060.1</text></g>
<g id="n_SmPUB19" transform="rotate(236.97)"><use href="#dt"/><text class="s" transform="rotate(180)" x="-577" y="8" text-anchor="end">SmPUB19</text></g>
<g id="n_AT2G45910" transform="rotate(239.6)"><use href="#tr"/><text class="r" transform="rotate(180)" x="-577" y="8" text-anchor="end">AT2G45910.1</text></g>
<g id="n_SmPUB27" transform="rotate(242)"><use href="#dt"/><text class="s" transform="rotate(180)" x="-577" y="8" text-anchor="end">SmPUB27</text></g>
<g id="n_SmPUB40" transform="rotate(244.62)"><use href="#dt"/><text class="s" transform="rotate(180)" x="-577" y="8" text-anchor="end">SmPUB40</text></g>
<g id="n_SmPUB21" transform="rotate(247.25)"><use href="#dt"/><text class="s" transform="rotate(180)" x="-577" y="8" text-anchor="end">SmPUB21</text></g>
<g id="n_SmPUB22" transform="rotate(249.87)"><use href="#dt"/><text class="s" transform="rotate(180)" x="-577" y="8" text-anchor="end">SmPUB22</text></g>
<g id="n_SmPUB39" transform="rotate(252.49)"><use href="#dt"/><text class="s" transform="rotate(180)" x="-577" y="8" text-anchor="end">SmPUB39</text></g>
<g id="n_AT1G68940" transform="rotate(255.12)"><use href="#tr"/><text class="r" transform="rotate(180)" x="-577" y="8" text-anchor="end">AT1G68940.1</text></g>
<g id="n_SmPUB9" transform="rotate(257.74)"><use href="#dt"/><text class="s" transform="rotate(180)" x="-577" y="8" text-anchor="end">SmPUB9</text></g>
<g id="n_AT1G20780" transform="rotate(260.36)"><use href="#tr"/><text class="r" transform="rotate(180)" x="-577" y="8" text-anchor="end">AT1G20780.1</text></g>
<g id="n_AT1G76390" transform="rotate(262.98)"><use href="#tr"/><text class="r" transform="rotate(180)" x="-577" y="8" text-anchor="end">AT1G76390.1</text></g>
<g id="n_SmPUB15" transform="rotate(265.61)"><use href="#dt"/><text class="s" transform="rotate(180)" x="-577" y="8" text-anchor="end">SmPUB15</text></g>
<g id="n_SmPUB36" transform="rotate(268.23)"><use href="#dt"/><text class="s" transform="rotate(180)" x="-577" y="8" text-anchor="end">SmPUB36</text></g>
<g id="n_SmPUB60" transform="rotate(270.85)"><use href="#dt"/><text class="s" x="577" y="8">SmPUB60</text></g>
<g id="n_AT5G40140" transform="rotate(273.48)"><use href="#tr"/><text class="r" x="577" y="8">AT5G40140.1</text></g>
<g id="n_SmPUB1" transform="rotate(276.1)"><use href="#dt"/><text class="s" x="577" y="8">SmPUB1</text></g>
<g id="n_SmPUB2" transform="rotate(278.72)"><use href="#dt"/><text class="s" x="577" y="8">SmPUB2</text></g>
<g id="n_SmPUB59" transform="rotate(281.35)"><use href="#dt"/><text class="s" x="577" y="8">SmPUB59</text></g>
<g id="n_AT5G65200" transform="rotate(283.97)"><use href="#tr"/><text class="r" x="577" y="8">AT5G65200.1</text></g>
<g id="n_AT5G62560" transform="rotate(286.6)"><use href="#tr"/><text class="r" x="577" y="8">AT5G62560.1</text></g>
<g id="n_AT3G47820" transform="rotate(289)"><use href="#tr"/><text class="r" x="577" y="8">AT3G47820.1</text></g>
<g id="n_SmPUB25" transform="rotate(291.67)"><use href="#dt"/><text class="s" x="577" y="8">SmPUB25</text></g>
<g id="n_AT2G33340" transform="rotate(294.33)"><use href="#tr"/><text class="r" x="577" y="8">AT2G33340.1</text></g>
<g id="n_SmPUB16" transform="rotate(297)"><use href="#dt"/><text class="s" x="577" y="8">SmPUB16</text></g>
<g id="n_AT1G04510" transform="rotate(299.7)"><use href="#tr"/><text class="r" x="577" y="8">AT1G04510.1</text></g>
<g id="n_SmPUB31" transform="rotate(302.6)"><use href="#dt"/><text class="s" x="577" y="8">SmPUB31</text></g>
<g id="n_AT3G07370" transform="rotate(305.5)"><use href="#tr"/><text class="r" x="577" y="8">AT3G07370.1</text></g>
<g id="n_SmPUB7" transform="rotate(308.11)"><use href="#dt"/><text class="s" x="577" y="8">SmPUB7</text></g>
<g id="n_SmPUB12" transform="rotate(310.72)"><use href="#dt"/><text class="s" x="577" y="8">SmPUB12</text></g>
<g id="n_SmPUB33" transform="rotate(313.32)"><use href="#dt"/><text class="s" x="577" y="8">SmPUB33</text></g>
<g id="n_SmPUB47" transform="rotate(315.93)"><use href="#dt"/><text class="s" x="577" y="8">SmPUB47</text></g>
<g id="n_SmPUB37" transform="rotate(318.54)"><use href="#dt"/><text class="s" x="577" y="8">SmPUB37</text></g>
<g id="n_SmPUB54" transform="rotate(321.15)"><use href="#dt"/><text class="s" x="577" y="8">SmPUB54</text></g>
<g id="n_SmPUB45" transform="rotate(323.76)"><use href="#dt"/><text class="s" x="577" y="8">SmPUB45</text></g>
<g id="n_SmPUB67" transform="rotate(326.36)"><use href="#dt"/><text class="s" x="577" y="8">SmPUB67</text></g>
<g id="n_SmPUB70" transform="rotate(328.97)"><use href="#dt"/><text class="s" x="577" y="8">SmPUB70</text></g>
<g id="n_SmPUB32" transform="rotate(331.58)"><use href="#dt"/><text class="s" x="577" y="8">SmPUB32</text></g>
<g id="n_SmPUB3" transform="rotate(334.19)"><use href="#dt"/><text class="s" x="577" y="8">SmPUB3</text></g>
<g id="n_SmPUB28" transform="rotate(336.8)"><use href="#dt"/><text class="s" x="577" y="8">SmPUB28</text></g>
<g id="n_SmPUB56" transform="rotate(339.4)"><use href="#dt"/><text class="s" x="577" y="8">SmPUB56</text></g>
<g id="n_AT5G05230" transform="rotate(342.3)"><use href="#tr"/><text class="r" x="577" y="8">AT5G05230.1</text></g>
<g id="n_SmPUB69" transform="rotate(344.9)"><use href="#dt"/><text class="s" x="577" y="8">SmPUB69</text></g>
<g id="n_AT5G15400" transform="rotate(347.5)"><use href="#tr"/><text class="r" x="577" y="8">AT5G15400.1</text></g>
</g>
</g>
<g id="rings" class="ring" transform="translate(785,793)">
<circle r="745" transform="rotate(-1.5)" stroke="#2c6aa6" stroke-dasharray="1302.8 6000"/>
<circle r="745" transform="rotate(98.9)" stroke="#2a9a4a" stroke-dasharray="958.3 6000"/>
<circle r="745" transform="rotate(172.8)" stroke="#2c6aa6" stroke-dasharray="161.2 6000"/>
<circle r="745" transform="rotate(185.4)" stroke="#e8912c" stroke-dasharray="716.5 6000"/>
<circle r="745" transform="rotate(240.7)" stroke="#2c6aa6" stroke-dasharray="646.2 6000"/>
<circle r="745" transform="rotate(290.6)" stroke="#8a5a3a" stroke-dasharray="135.2 6000"/>
<circle r="745" transform="rotate(301.2)" stroke="#e0609a" stroke-dasharray="66.3 6000"/>
<circle r="745" transform="rotate(306.5)" stroke="#111" stroke-dasharray="409.6 6000"/>
<circle r="745" transform="rotate(338.2)" stroke="#3a1a48" stroke-dasharray="133.9 6000"/>
</g>
<g id="group-labels" class="gl" text-anchor="middle">
<text x="740" y="26" fill="#2c6aa6">groupIIa</text>
<text transform="translate(1140,95) rotate(27)" fill="#8a5a3a">groupV</text>
<text transform="translate(1232,162) rotate(36)" fill="#e0609a">groupVI</text>
<text transform="translate(1410,335) rotate(54)" fill="#111">groupVII</text>
<text transform="translate(1518,578) rotate(74)" fill="#3a1a48">groupI</text>
<text transform="translate(1318,1388) rotate(-41)" fill="#2c6aa6">groupIIc</text>
<text transform="translate(240,1338) rotate(44)" fill="#2a9a4a">groupIII</text>
<text transform="translate(16,805) rotate(88)" fill="#2c6aa6">groupIIb</text>
<text transform="translate(148,350) rotate(-56)" fill="#e8912c">groupIV</text>
</g>
</g>
</svg>
